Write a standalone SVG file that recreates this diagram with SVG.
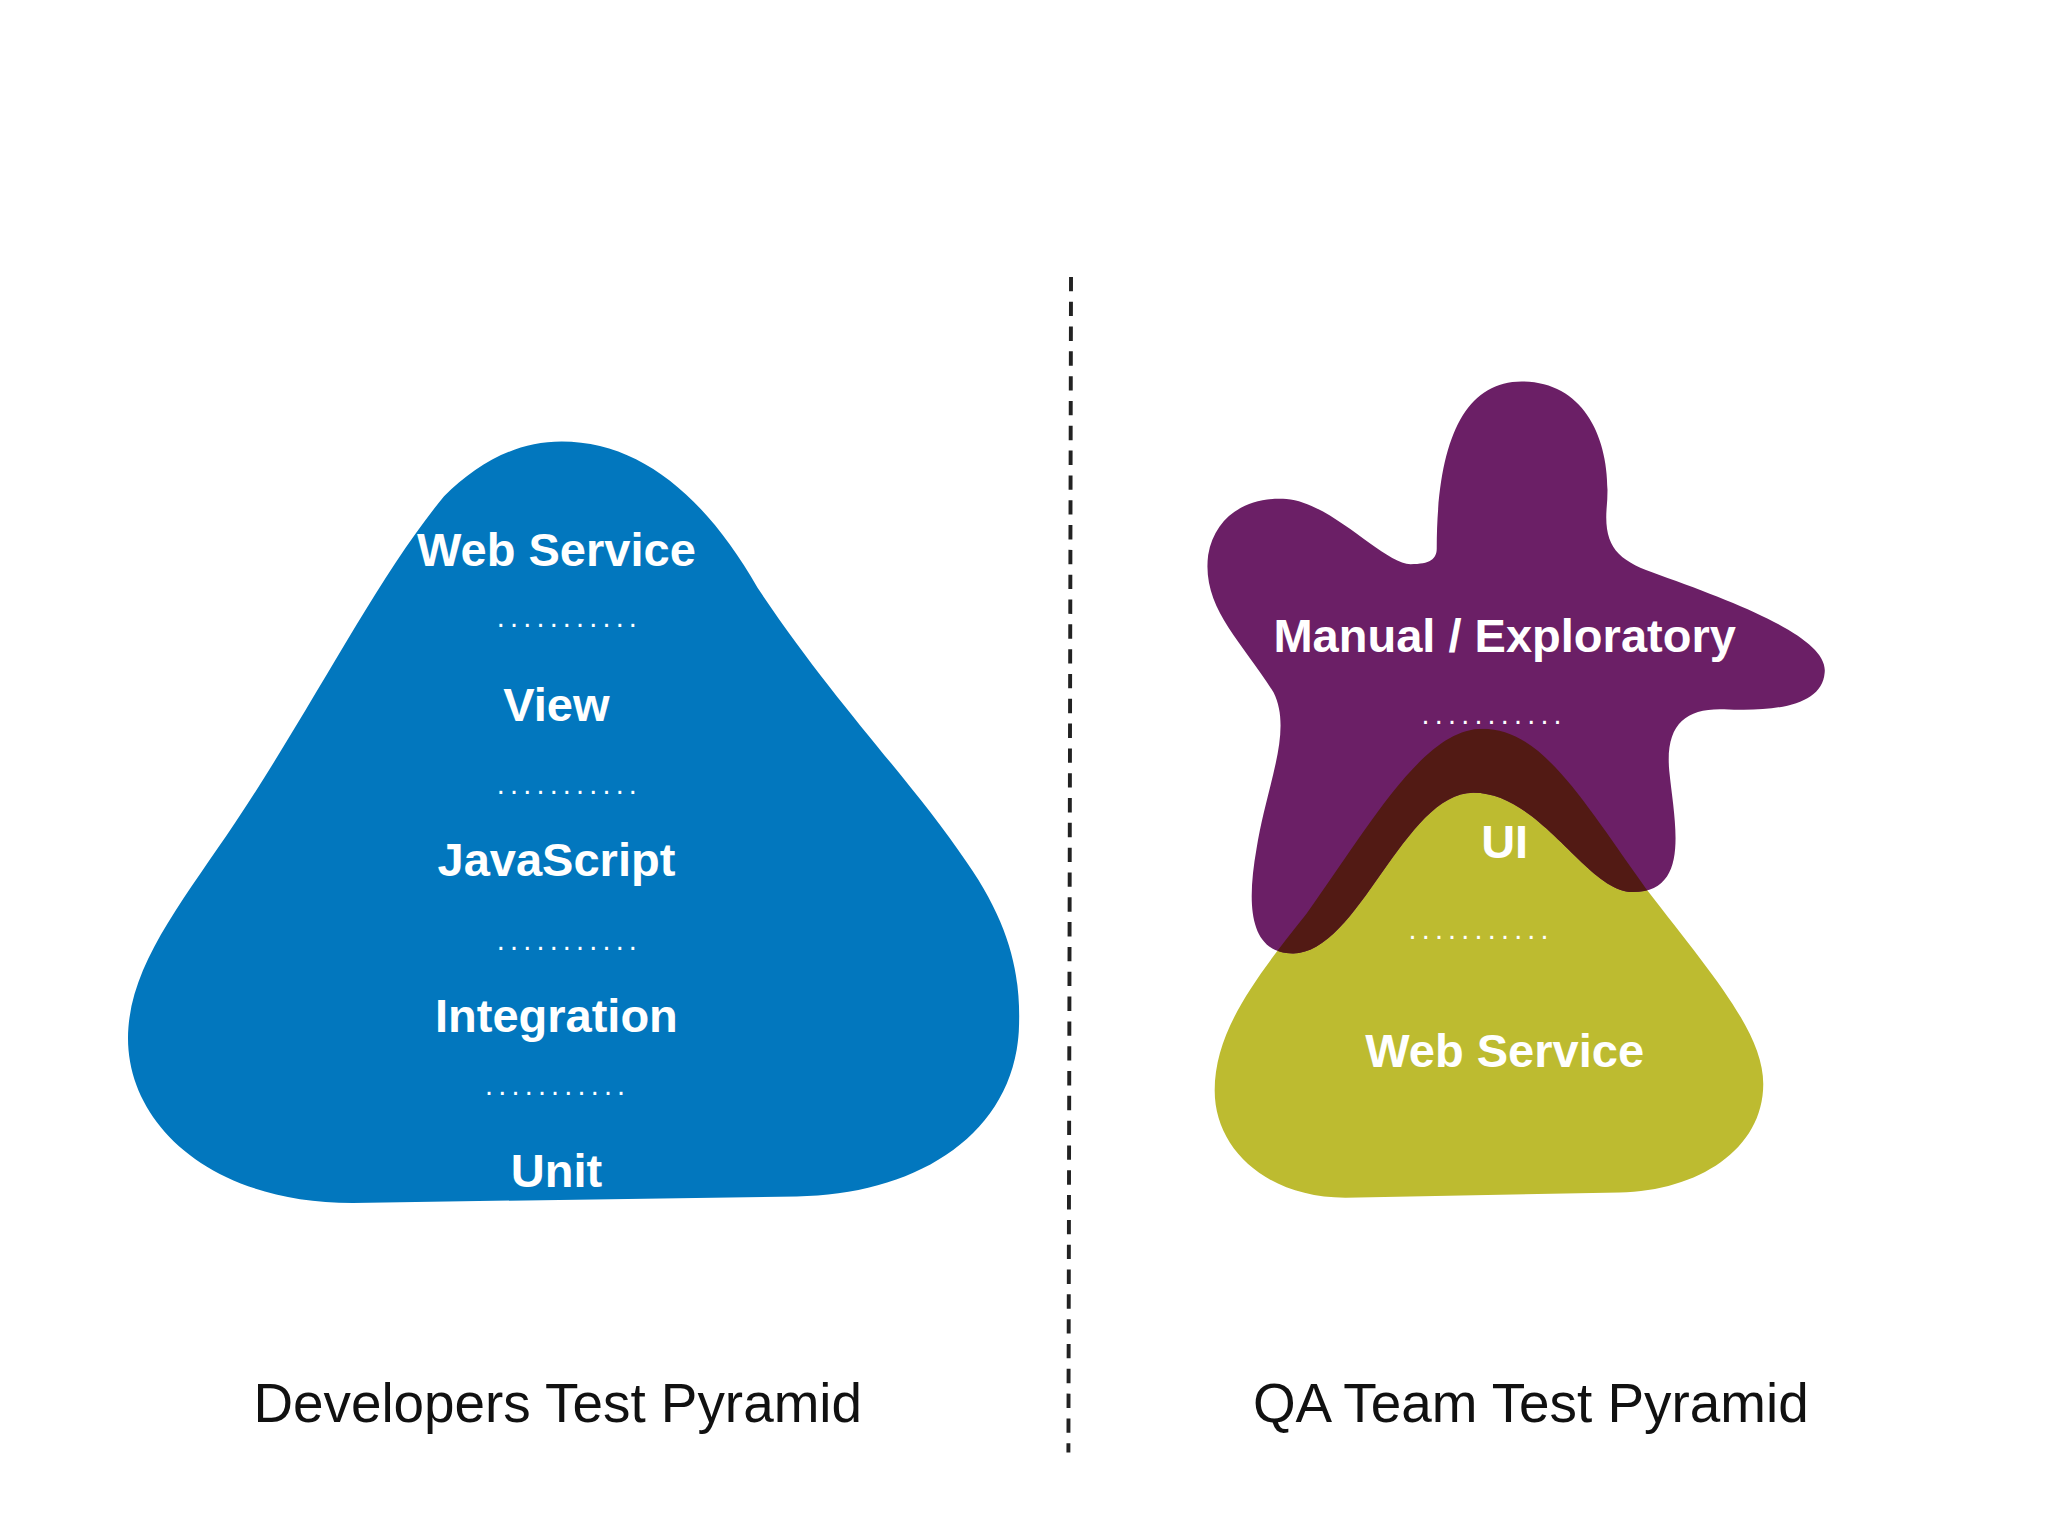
<svg xmlns="http://www.w3.org/2000/svg" width="2048" height="1536" viewBox="0 0 2048 1536">
<style>
.t{font-family:"Liberation Sans",Arial,sans-serif;font-weight:bold;font-size:36px;fill:#fff;text-anchor:middle}
.d{font-family:"Liberation Sans",Arial,sans-serif;font-size:22px;fill:#fff;text-anchor:middle;letter-spacing:4px}
.l{font-family:"Liberation Sans",Arial,sans-serif;font-size:42px;fill:#111;text-anchor:middle}
</style>
<defs>
<path id="olive" d="M 1135,558 C 1180,558 1210,610 1260,680 C 1310,745 1350,790 1350,830 C 1350,880 1300,912 1240,913 L 1030,917 C 970,917 930,880 930,835 C 930,790 960,750 1000,700 C 1050,630 1090,558 1135,558 Z"/>
<path id="star" d="M 1100,420 C 1100,340 1120,292 1165,292 C 1215,292 1235,340 1230,390 C 1228,420 1240,430 1270,440 C 1340,465 1400,490 1397,515 C 1395,540 1360,545 1320,543 C 1290,542 1275,555 1278,590 C 1282,630 1295,683 1250,683 C 1215,683 1180,607 1128,607 C 1075,607 1040,730 990,730 C 955,730 955,690 962,650 C 970,600 990,560 975,530 C 950,490 920,465 925,425 C 930,395 955,380 985,382 C 1020,385 1060,432 1080,432 C 1095,432 1100,428 1100,420 Z"/>
<clipPath id="oc"><use href="#olive"/></clipPath>
</defs>
<rect width="2048" height="1536" fill="#fff"/>
<g transform="scale(1.30612)">
<g id="dev">
<path fill="#0277be" d="M 430,338 C 490,338 540,380 580,450 C 640,540 700,600 740,660 C 775,710 782,750 780,790 C 775,870 700,915 610,916 L 270,921 C 160,921 98,860 98,795 C 98,740 140,690 180,630 C 240,540 290,440 340,380 C 365,355 395,338 430,338 Z"/>
<text class="t" x="426" y="433">Web Service</text>
<text class="d" x="436" y="480">...........</text>
<text class="t" x="426" y="552">View</text>
<text class="d" x="436" y="608">...........</text>
<text class="t" x="426" y="671">JavaScript</text>
<text class="d" x="436" y="727">...........</text>
<text class="t" x="426" y="790">Integration</text>
<text class="d" x="427" y="838">...........</text>
<text class="t" x="426" y="909">Unit</text>
</g>
<g id="qa">
<use href="#olive" fill="#bdbb30"/>
<use href="#star" fill="#6b1f66"/>
<use href="#star" fill="#521a14" clip-path="url(#oc)"/>
<text class="t" x="1152" y="499">Manual / Exploratory</text>
<text class="d" x="1144" y="554">...........</text>
<text class="t" x="1152" y="657">UI</text>
<text class="d" x="1134" y="719">...........</text>
<text class="t" x="1152" y="817">Web Service</text>
</g>
<g id="connectors">
<line x1="820" y1="212" x2="818" y2="1112" stroke="#222" stroke-width="3" stroke-dasharray="11 8"/>
</g>
<text class="l" x="427" y="1089">Developers Test Pyramid</text>
<text class="l" x="1172" y="1089">QA Team Test Pyramid</text>
</g>
</svg>
